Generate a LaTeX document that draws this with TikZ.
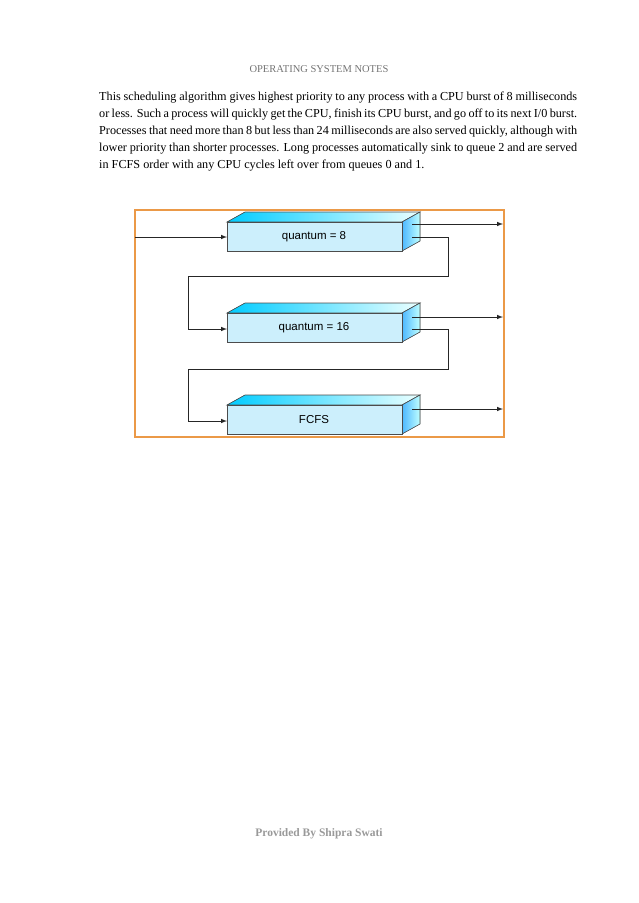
\documentclass[tikz,border=0pt]{standalone}
\usepackage{fontspec}
\setmainfont{Liberation Serif}
\newfontfamily\boxfont{Liberation Sans}
\begin{document}
\begin{tikzpicture}[x=1pt,y=-1pt,
  front/.style={fill=cyan!20!white,draw=black!70,line width=0.6pt},
  side/.style={left color=cyan!60!blue!70,right color=cyan!25,draw=black!70,line width=0.6pt},
  topf/.style={left color=cyan!80!blue,right color=cyan!8,draw=black!70,line width=0.6pt},
  conn/.style={line width=1pt,black!85},
  arr/.style={conn,-latex}]
\useasboundingbox (0,0) rectangle (638,903);
\node (hdr) at (319,69) {\fontsize{10.5}{12}\selectfont\color{black!55}OPERATING SYSTEM NOTES};
\node[anchor=north west,inner sep=0pt] (par) at (99,92) {\parbox{478pt}{\fontsize{12.2}{17}\selectfont This scheduling algorithm gives highest priority to any process with a CPU burst of 8 milliseconds or less. Such a process will quickly get the CPU, finish its CPU burst, and go off to its next I/0 burst. Processes that need more than 8 but less than 24 milliseconds are also served quickly, although with lower priority than shorter processes. Long processes automatically sink to queue 2 and are served in FCFS order with any CPU cycles left over from queues 0 and 1.}};
\node (ftr) at (319,834) {\fontsize{11.5}{13}\selectfont\bfseries\color{black!40}Provided By Shipra Swati};
\draw[draw=orange!60!brown!80,line width=2pt] (135,210) rectangle (504,437);
\foreach \n/\t/\txt in {a/222/quantum = 8,b/313/quantum = 16,c/405/FCFS}{
  \pgfmathsetmacro\b{\t+29}
  \fill[topf] (227,\t) -- (245,\t-10) -- (420,\t-10) -- (402,\t) -- cycle;
  \fill[side] (402,\t) -- (420,\t-10) -- (420,\b-10) -- (402,\b) -- cycle;
  \node[front,minimum width=175pt,minimum height=29pt,anchor=north west,inner sep=0pt] (\n) at (227,\t) {};
  \node (\n t) at (314,\t+15) {\boxfont\fontsize{11.5}{13}\selectfont \txt};
}
\coordinate (in) at (135,237);
\coordinate (ao) at (412,224); \coordinate (ae) at (503,224);
\coordinate (bo) at (412,317); \coordinate (be) at (503,317);
\coordinate (co) at (412,409); \coordinate (ce) at (503,409);
\coordinate (af) at (412,237); \coordinate (bf) at (412,329);
\draw[arr] (in) -- (a.west|-in);
\draw[arr] (ao) -- (ae);
\draw[arr] (bo) -- (be);
\draw[arr] (co) -- (ce);
\draw[arr] (af) -- (448,237) -- (448,276) -- (188,276) -- (188,329) -- (b.west|-bf);
\draw[arr] (bf) -- (448,329) -- (448,369) -- (188,369) -- (188,421) -- (227,421);
\end{tikzpicture}
\end{document}
